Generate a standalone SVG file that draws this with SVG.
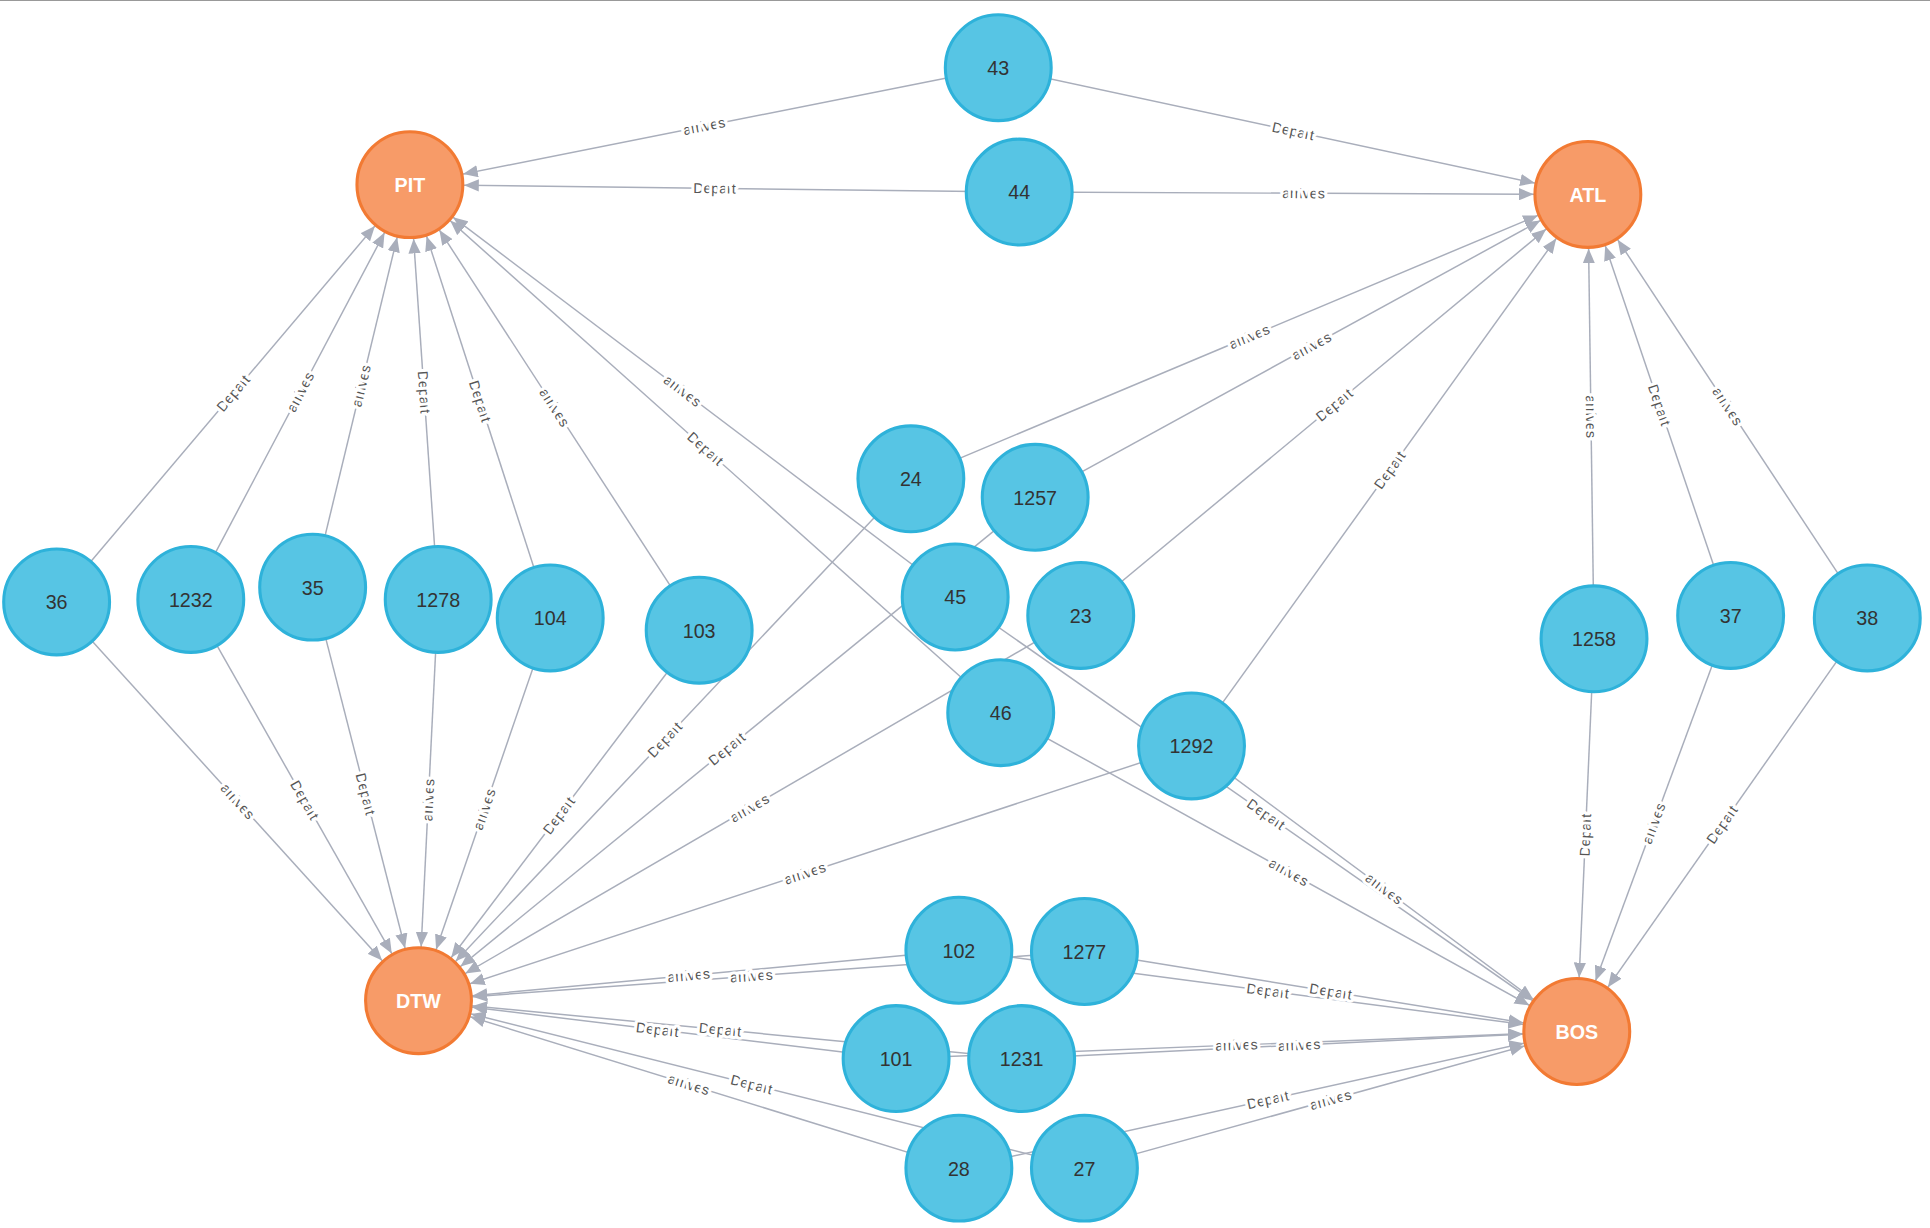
<svg xmlns="http://www.w3.org/2000/svg" xmlns:xlink="http://www.w3.org/1999/xlink" width="1930" height="1228" viewBox="0 0 1930 1228">
<style>
.e{stroke:#a9aebb;stroke-width:1.2;fill:none;marker-end:url(#arr)}
.l{font-family:"Liberation Sans",Arial,sans-serif;font-size:11.5px;fill:#555;stroke:#fff;stroke-width:5px;paint-order:stroke;stroke-linejoin:round}
.f circle{fill:#57c5e4;stroke:#2eb2da;stroke-width:2.5}
.a circle{fill:#f79b68;stroke:#f27a33;stroke-width:2.5}
.f text{font-family:"Liberation Sans",Arial,sans-serif;font-size:16px;fill:#333;text-anchor:middle}
.a text{font-family:"Liberation Sans",Arial,sans-serif;font-size:16px;fill:#fff;font-weight:bold;text-anchor:middle}
</style>
<defs>
<marker id="arr" markerUnits="userSpaceOnUse" viewBox="0 0 12 10" markerWidth="12" markerHeight="10" refX="56" refY="5" orient="auto"><path d="M0,0 L12,5 L0,10 z" fill="#a9aebb"/></marker>
<path id="t1" d="M333,150 L811,55"/><path id="t2" d="M811,55 L1290,158"/>
<path id="t3" d="M333,150 L828,156"/><path id="t4" d="M828,156 L1290,158"/>
<path id="t5" d="M46,489 L333,150"/><path id="t6" d="M46,489 L340,813"/>
<path id="t7" d="M155,487 L333,150"/><path id="t8" d="M155,487 L340,813"/>
<path id="t9" d="M254,477 L333,150"/><path id="t10" d="M254,477 L340,813"/>
<path id="t11" d="M333,150 L356,487"/><path id="t12" d="M340,813 L356,487"/>
<path id="t13" d="M333,150 L447,502"/><path id="t14" d="M340,813 L447,502"/>
<path id="t15" d="M333,150 L568,512"/><path id="t16" d="M340,813 L568,512"/>
<path id="t17" d="M333,150 L776,485"/><path id="t18" d="M776,485 L1281,838"/>
<path id="t19" d="M333,150 L813,579"/><path id="t20" d="M813,579 L1281,838"/>
<path id="t21" d="M740,389 L1290,158"/><path id="t22" d="M340,813 L740,389"/>
<path id="t23" d="M841,404 L1290,158"/><path id="t24" d="M340,813 L841,404"/>
<path id="t25" d="M878,500 L1290,158"/><path id="t26" d="M340,813 L878,500"/>
<path id="t27" d="M968,606 L1290,158"/><path id="t28" d="M340,813 L968,606"/><path id="t29" d="M968,606 L1281,838"/>
<path id="t30" d="M1290,158 L1295,519"/><path id="t31" d="M1281,838 L1295,519"/>
<path id="t32" d="M1290,158 L1406,500"/><path id="t33" d="M1281,838 L1406,500"/>
<path id="t34" d="M1290,158 L1517,502"/><path id="t35" d="M1281,838 L1517,502"/>
<path id="t36" d="M340,813 L779,772"/><path id="t37" d="M779,772 L1281,838"/>
<path id="t38" d="M340,813 L881,773"/><path id="t39" d="M881,773 L1281,838"/>
<path id="t40" d="M340,813 L728,860"/><path id="t41" d="M728,860 L1281,838"/>
<path id="t42" d="M340,813 L830,860"/><path id="t43" d="M830,860 L1281,838"/>
<path id="t44" d="M340,813 L779,949"/><path id="t45" d="M779,949 L1281,838"/>
<path id="t46" d="M340,813 L881,949"/><path id="t47" d="M881,949 L1281,838"/>
</defs>
<rect width="1930" height="1228" fill="#fff"/>
<line x1="0" y1="0.5" x2="1930" y2="0.5" stroke="#999"/>
<g transform="scale(1.2309)">
<g id="connectors">
<line class="e" x1="811" y1="55" x2="333" y2="150"/><line class="e" x1="811" y1="55" x2="1290" y2="158"/>
<line class="e" x1="828" y1="156" x2="333" y2="150"/><line class="e" x1="828" y1="156" x2="1290" y2="158"/>
<line class="e" x1="46" y1="489" x2="333" y2="150"/><line class="e" x1="46" y1="489" x2="340" y2="813"/>
<line class="e" x1="155" y1="487" x2="333" y2="150"/><line class="e" x1="155" y1="487" x2="340" y2="813"/>
<line class="e" x1="254" y1="477" x2="333" y2="150"/><line class="e" x1="254" y1="477" x2="340" y2="813"/>
<line class="e" x1="356" y1="487" x2="333" y2="150"/><line class="e" x1="356" y1="487" x2="340" y2="813"/>
<line class="e" x1="447" y1="502" x2="333" y2="150"/><line class="e" x1="447" y1="502" x2="340" y2="813"/>
<line class="e" x1="568" y1="512" x2="333" y2="150"/><line class="e" x1="568" y1="512" x2="340" y2="813"/>
<line class="e" x1="776" y1="485" x2="333" y2="150"/><line class="e" x1="776" y1="485" x2="1281" y2="838"/>
<line class="e" x1="813" y1="579" x2="333" y2="150"/><line class="e" x1="813" y1="579" x2="1281" y2="838"/>
<line class="e" x1="740" y1="389" x2="1290" y2="158"/><line class="e" x1="740" y1="389" x2="340" y2="813"/>
<line class="e" x1="841" y1="404" x2="1290" y2="158"/><line class="e" x1="841" y1="404" x2="340" y2="813"/>
<line class="e" x1="878" y1="500" x2="1290" y2="158"/><line class="e" x1="878" y1="500" x2="340" y2="813"/>
<line class="e" x1="968" y1="606" x2="1290" y2="158"/><line class="e" x1="968" y1="606" x2="340" y2="813"/><line class="e" x1="968" y1="606" x2="1281" y2="838"/>
<line class="e" x1="1295" y1="519" x2="1290" y2="158"/><line class="e" x1="1295" y1="519" x2="1281" y2="838"/>
<line class="e" x1="1406" y1="500" x2="1290" y2="158"/><line class="e" x1="1406" y1="500" x2="1281" y2="838"/>
<line class="e" x1="1517" y1="502" x2="1290" y2="158"/><line class="e" x1="1517" y1="502" x2="1281" y2="838"/>
<line class="e" x1="779" y1="772" x2="340" y2="813"/><line class="e" x1="779" y1="772" x2="1281" y2="838"/>
<line class="e" x1="881" y1="773" x2="340" y2="813"/><line class="e" x1="881" y1="773" x2="1281" y2="838"/>
<line class="e" x1="728" y1="860" x2="340" y2="813"/><line class="e" x1="728" y1="860" x2="1281" y2="838"/>
<line class="e" x1="830" y1="860" x2="340" y2="813"/><line class="e" x1="830" y1="860" x2="1281" y2="838"/>
<line class="e" x1="779" y1="949" x2="340" y2="813"/><line class="e" x1="779" y1="949" x2="1281" y2="838"/>
<line class="e" x1="881" y1="949" x2="340" y2="813"/><line class="e" x1="881" y1="949" x2="1281" y2="838"/>
<g class="l" text-anchor="middle">
<text dy="4"><textPath href="#t1" startOffset="50%">arrives</textPath></text>
<text dy="4"><textPath href="#t2" startOffset="50%">Depart</textPath></text>
<text dy="4"><textPath href="#t3" startOffset="50%">Depart</textPath></text>
<text dy="4"><textPath href="#t4" startOffset="50%">arrives</textPath></text>
<text dy="4"><textPath href="#t5" startOffset="50%">Depart</textPath></text>
<text dy="4"><textPath href="#t6" startOffset="50%">arrives</textPath></text>
<text dy="4"><textPath href="#t7" startOffset="50%">arrives</textPath></text>
<text dy="4"><textPath href="#t8" startOffset="50%">Depart</textPath></text>
<text dy="4"><textPath href="#t9" startOffset="50%">arrives</textPath></text>
<text dy="4"><textPath href="#t10" startOffset="50%">Depart</textPath></text>
<text dy="4"><textPath href="#t11" startOffset="50%">Depart</textPath></text>
<text dy="4"><textPath href="#t12" startOffset="50%">arrives</textPath></text>
<text dy="4"><textPath href="#t13" startOffset="50%">Depart</textPath></text>
<text dy="4"><textPath href="#t14" startOffset="50%">arrives</textPath></text>
<text dy="4"><textPath href="#t15" startOffset="50%">arrives</textPath></text>
<text dy="4"><textPath href="#t16" startOffset="50%">Depart</textPath></text>
<text dy="4"><textPath href="#t17" startOffset="50%">arrives</textPath></text>
<text dy="4"><textPath href="#t18" startOffset="50%">Depart</textPath></text>
<text dy="4"><textPath href="#t19" startOffset="50%">Depart</textPath></text>
<text dy="4"><textPath href="#t20" startOffset="50%">arrives</textPath></text>
<text dy="4"><textPath href="#t21" startOffset="50%">arrives</textPath></text>
<text dy="4"><textPath href="#t22" startOffset="50%">Depart</textPath></text>
<text dy="4"><textPath href="#t23" startOffset="50%">arrives</textPath></text>
<text dy="4"><textPath href="#t24" startOffset="50%">Depart</textPath></text>
<text dy="4"><textPath href="#t25" startOffset="50%">Depart</textPath></text>
<text dy="4"><textPath href="#t26" startOffset="50%">arrives</textPath></text>
<text dy="4"><textPath href="#t27" startOffset="50%">Depart</textPath></text>
<text dy="4"><textPath href="#t28" startOffset="50%">arrives</textPath></text>
<text dy="4"><textPath href="#t29" startOffset="50%">arrives</textPath></text>
<text dy="4"><textPath href="#t30" startOffset="50%">arrives</textPath></text>
<text dy="4"><textPath href="#t31" startOffset="50%">Depart</textPath></text>
<text dy="4"><textPath href="#t32" startOffset="50%">Depart</textPath></text>
<text dy="4"><textPath href="#t33" startOffset="50%">arrives</textPath></text>
<text dy="4"><textPath href="#t34" startOffset="50%">arrives</textPath></text>
<text dy="4"><textPath href="#t35" startOffset="50%">Depart</textPath></text>
<text dy="4"><textPath href="#t36" startOffset="50%">arrives</textPath></text>
<text dy="4"><textPath href="#t37" startOffset="50%">Depart</textPath></text>
<text dy="4"><textPath href="#t38" startOffset="50%">arrives</textPath></text>
<text dy="4"><textPath href="#t39" startOffset="50%">Depart</textPath></text>
<text dy="4"><textPath href="#t40" startOffset="50%">Depart</textPath></text>
<text dy="4"><textPath href="#t41" startOffset="50%">arrives</textPath></text>
<text dy="4"><textPath href="#t42" startOffset="50%">Depart</textPath></text>
<text dy="4"><textPath href="#t43" startOffset="50%">arrives</textPath></text>
<text dy="4"><textPath href="#t44" startOffset="50%">arrives</textPath></text>
<text dy="4"><textPath href="#t45" startOffset="50%">Depart</textPath></text>
<text dy="4"><textPath href="#t46" startOffset="50%">Depart</textPath></text>
<text dy="4"><textPath href="#t47" startOffset="50%">arrives</textPath></text>
</g>
</g>
<g id="PIT" class="a"><circle cx="333" cy="150" r="43"/><text x="333" y="156">PIT</text></g>
<g id="ATL" class="a"><circle cx="1290" cy="158" r="43"/><text x="1290" y="164">ATL</text></g>
<g id="DTW" class="a"><circle cx="340" cy="813" r="43"/><text x="340" y="819">DTW</text></g>
<g id="BOS" class="a"><circle cx="1281" cy="838" r="43"/><text x="1281" y="844">BOS</text></g>
<g id="n43" class="f"><circle cx="811" cy="55" r="43"/><text x="811" y="61">43</text></g>
<g id="n44" class="f"><circle cx="828" cy="156" r="43"/><text x="828" y="162">44</text></g>
<g id="n36" class="f"><circle cx="46" cy="489" r="43"/><text x="46" y="495">36</text></g>
<g id="n1232" class="f"><circle cx="155" cy="487" r="43"/><text x="155" y="493">1232</text></g>
<g id="n35" class="f"><circle cx="254" cy="477" r="43"/><text x="254" y="483">35</text></g>
<g id="n1278" class="f"><circle cx="356" cy="487" r="43"/><text x="356" y="493">1278</text></g>
<g id="n104" class="f"><circle cx="447" cy="502" r="43"/><text x="447" y="508">104</text></g>
<g id="n103" class="f"><circle cx="568" cy="512" r="43"/><text x="568" y="518">103</text></g>
<g id="n24" class="f"><circle cx="740" cy="389" r="43"/><text x="740" y="395">24</text></g>
<g id="n1257" class="f"><circle cx="841" cy="404" r="43"/><text x="841" y="410">1257</text></g>
<g id="n45" class="f"><circle cx="776" cy="485" r="43"/><text x="776" y="491">45</text></g>
<g id="n23" class="f"><circle cx="878" cy="500" r="43"/><text x="878" y="506">23</text></g>
<g id="n46" class="f"><circle cx="813" cy="579" r="43"/><text x="813" y="585">46</text></g>
<g id="n1292" class="f"><circle cx="968" cy="606" r="43"/><text x="968" y="612">1292</text></g>
<g id="n1258" class="f"><circle cx="1295" cy="519" r="43"/><text x="1295" y="525">1258</text></g>
<g id="n37" class="f"><circle cx="1406" cy="500" r="43"/><text x="1406" y="506">37</text></g>
<g id="n38" class="f"><circle cx="1517" cy="502" r="43"/><text x="1517" y="508">38</text></g>
<g id="n102" class="f"><circle cx="779" cy="772" r="43"/><text x="779" y="778">102</text></g>
<g id="n1277" class="f"><circle cx="881" cy="773" r="43"/><text x="881" y="779">1277</text></g>
<g id="n101" class="f"><circle cx="728" cy="860" r="43"/><text x="728" y="866">101</text></g>
<g id="n1231" class="f"><circle cx="830" cy="860" r="43"/><text x="830" y="866">1231</text></g>
<g id="n28" class="f"><circle cx="779" cy="949" r="43"/><text x="779" y="955">28</text></g>
<g id="n27" class="f"><circle cx="881" cy="949" r="43"/><text x="881" y="955">27</text></g>
</g>
</svg>
